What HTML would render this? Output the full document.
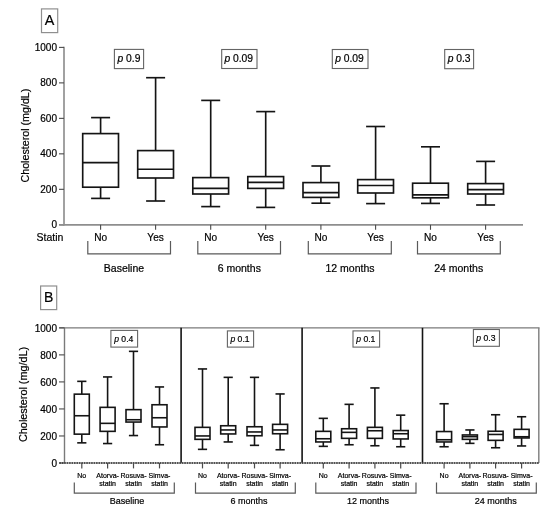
<!DOCTYPE html>
<html><head><meta charset="utf-8"><title>Cholesterol by statin use</title>
<style>
html,body{margin:0;padding:0;background:#fff;}
body{width:550px;height:515px;overflow:hidden;}
svg{display:block;font-family:'Liberation Sans', Arial, sans-serif;}
</style></head>
<body>
<svg width="550" height="515" viewBox="0 0 550 515">
<rect x="0" y="0" width="550" height="515" fill="#fff"/>
<rect x="41.5" y="8.9" width="16.2" height="23.7" stroke="#8f8f8f" stroke-width="1.2" fill="none"/>
<text x="49.6" y="25.4" font-size="14.3" text-anchor="middle" fill="#000" stroke="#000" stroke-width="0.2" >A</text>
<line x1="64" y1="46.8" x2="64" y2="225.4" stroke="#8a8a8a" stroke-width="1.6" />
<line x1="59.0" y1="224.8" x2="64" y2="224.8" stroke="#4a4a4a" stroke-width="1.1" />
<text x="57" y="228.4" font-size="10" text-anchor="end" fill="#000" stroke="#000" stroke-width="0.2" >0</text>
<line x1="59.0" y1="189.32" x2="64" y2="189.32" stroke="#4a4a4a" stroke-width="1.1" />
<text x="57" y="192.92" font-size="10" text-anchor="end" fill="#000" stroke="#000" stroke-width="0.2" >200</text>
<line x1="59.0" y1="153.84" x2="64" y2="153.84" stroke="#4a4a4a" stroke-width="1.1" />
<text x="57" y="157.44" font-size="10" text-anchor="end" fill="#000" stroke="#000" stroke-width="0.2" >400</text>
<line x1="59.0" y1="118.36" x2="64" y2="118.36" stroke="#4a4a4a" stroke-width="1.1" />
<text x="57" y="121.96" font-size="10" text-anchor="end" fill="#000" stroke="#000" stroke-width="0.2" >600</text>
<line x1="59.0" y1="82.88" x2="64" y2="82.88" stroke="#4a4a4a" stroke-width="1.1" />
<text x="57" y="86.47999999999999" font-size="10" text-anchor="end" fill="#000" stroke="#000" stroke-width="0.2" >800</text>
<line x1="59.0" y1="47.400000000000006" x2="64" y2="47.400000000000006" stroke="#4a4a4a" stroke-width="1.1" />
<text x="57" y="51.00000000000001" font-size="10" text-anchor="end" fill="#000" stroke="#000" stroke-width="0.2" >1000</text>
<text x="0" y="0" font-size="10.7" text-anchor="middle" fill="#000" stroke="#000" stroke-width="0.2" transform="translate(29,135.6) rotate(-90)">Cholesterol (mg/dL)</text>
<line x1="59.2" y1="224.8" x2="523" y2="224.8" stroke="#8e8e8e" stroke-width="1.7" />
<line x1="100.6" y1="224.8" x2="100.6" y2="229.8" stroke="#4a4a4a" stroke-width="1.1" />
<line x1="100.6" y1="117.6" x2="100.6" y2="133.6" stroke="#141414" stroke-width="1.65" />
<line x1="100.6" y1="187.2" x2="100.6" y2="198.4" stroke="#141414" stroke-width="1.65" />
<line x1="91.1" y1="117.6" x2="110.1" y2="117.6" stroke="#141414" stroke-width="1.65" />
<line x1="91.1" y1="198.4" x2="110.1" y2="198.4" stroke="#141414" stroke-width="1.65" />
<rect x="82.69999999999999" y="133.6" width="35.8" height="53.599999999999994" stroke="#141414" stroke-width="1.65" fill="#fff"/>
<line x1="82.69999999999999" y1="162.6" x2="118.5" y2="162.6" stroke="#141414" stroke-width="1.65" />
<line x1="155.6" y1="224.8" x2="155.6" y2="229.8" stroke="#4a4a4a" stroke-width="1.1" />
<line x1="155.6" y1="77.7" x2="155.6" y2="150.6" stroke="#141414" stroke-width="1.65" />
<line x1="155.6" y1="178" x2="155.6" y2="201" stroke="#141414" stroke-width="1.65" />
<line x1="146.1" y1="77.7" x2="165.1" y2="77.7" stroke="#141414" stroke-width="1.65" />
<line x1="146.1" y1="201" x2="165.1" y2="201" stroke="#141414" stroke-width="1.65" />
<rect x="137.7" y="150.6" width="35.8" height="27.400000000000006" stroke="#141414" stroke-width="1.65" fill="#fff"/>
<line x1="137.7" y1="169.2" x2="173.5" y2="169.2" stroke="#141414" stroke-width="1.65" />
<line x1="210.7" y1="224.8" x2="210.7" y2="229.8" stroke="#4a4a4a" stroke-width="1.1" />
<line x1="210.7" y1="100.4" x2="210.7" y2="177.6" stroke="#141414" stroke-width="1.65" />
<line x1="210.7" y1="194" x2="210.7" y2="206.6" stroke="#141414" stroke-width="1.65" />
<line x1="201.2" y1="100.4" x2="220.2" y2="100.4" stroke="#141414" stroke-width="1.65" />
<line x1="201.2" y1="206.6" x2="220.2" y2="206.6" stroke="#141414" stroke-width="1.65" />
<rect x="192.79999999999998" y="177.6" width="35.8" height="16.400000000000006" stroke="#141414" stroke-width="1.65" fill="#fff"/>
<line x1="192.79999999999998" y1="188.4" x2="228.6" y2="188.4" stroke="#141414" stroke-width="1.65" />
<line x1="265.7" y1="224.8" x2="265.7" y2="229.8" stroke="#4a4a4a" stroke-width="1.1" />
<line x1="265.7" y1="111.6" x2="265.7" y2="176.6" stroke="#141414" stroke-width="1.65" />
<line x1="265.7" y1="188.4" x2="265.7" y2="207.4" stroke="#141414" stroke-width="1.65" />
<line x1="256.2" y1="111.6" x2="275.2" y2="111.6" stroke="#141414" stroke-width="1.65" />
<line x1="256.2" y1="207.4" x2="275.2" y2="207.4" stroke="#141414" stroke-width="1.65" />
<rect x="247.79999999999998" y="176.6" width="35.8" height="11.800000000000011" stroke="#141414" stroke-width="1.65" fill="#fff"/>
<line x1="247.79999999999998" y1="182.4" x2="283.59999999999997" y2="182.4" stroke="#141414" stroke-width="1.65" />
<line x1="320.9" y1="224.8" x2="320.9" y2="229.8" stroke="#4a4a4a" stroke-width="1.1" />
<line x1="320.9" y1="166" x2="320.9" y2="182.6" stroke="#141414" stroke-width="1.65" />
<line x1="320.9" y1="197.4" x2="320.9" y2="203.2" stroke="#141414" stroke-width="1.65" />
<line x1="311.4" y1="166" x2="330.4" y2="166" stroke="#141414" stroke-width="1.65" />
<line x1="311.4" y1="203.2" x2="330.4" y2="203.2" stroke="#141414" stroke-width="1.65" />
<rect x="303.0" y="182.6" width="35.8" height="14.800000000000011" stroke="#141414" stroke-width="1.65" fill="#fff"/>
<line x1="303.0" y1="192.6" x2="338.79999999999995" y2="192.6" stroke="#141414" stroke-width="1.65" />
<line x1="375.6" y1="224.8" x2="375.6" y2="229.8" stroke="#4a4a4a" stroke-width="1.1" />
<line x1="375.6" y1="126.5" x2="375.6" y2="179.6" stroke="#141414" stroke-width="1.65" />
<line x1="375.6" y1="193" x2="375.6" y2="203.6" stroke="#141414" stroke-width="1.65" />
<line x1="366.1" y1="126.5" x2="385.1" y2="126.5" stroke="#141414" stroke-width="1.65" />
<line x1="366.1" y1="203.6" x2="385.1" y2="203.6" stroke="#141414" stroke-width="1.65" />
<rect x="357.70000000000005" y="179.6" width="35.8" height="13.400000000000006" stroke="#141414" stroke-width="1.65" fill="#fff"/>
<line x1="357.70000000000005" y1="185.5" x2="393.5" y2="185.5" stroke="#141414" stroke-width="1.65" />
<line x1="430.5" y1="224.8" x2="430.5" y2="229.8" stroke="#4a4a4a" stroke-width="1.1" />
<line x1="430.5" y1="146.8" x2="430.5" y2="183.2" stroke="#141414" stroke-width="1.65" />
<line x1="430.5" y1="197.8" x2="430.5" y2="203.4" stroke="#141414" stroke-width="1.65" />
<line x1="421.0" y1="146.8" x2="440.0" y2="146.8" stroke="#141414" stroke-width="1.65" />
<line x1="421.0" y1="203.4" x2="440.0" y2="203.4" stroke="#141414" stroke-width="1.65" />
<rect x="412.6" y="183.2" width="35.8" height="14.600000000000023" stroke="#141414" stroke-width="1.65" fill="#fff"/>
<line x1="412.6" y1="194.8" x2="448.4" y2="194.8" stroke="#141414" stroke-width="1.65" />
<line x1="485.6" y1="224.8" x2="485.6" y2="229.8" stroke="#4a4a4a" stroke-width="1.1" />
<line x1="485.6" y1="161.4" x2="485.6" y2="183.6" stroke="#141414" stroke-width="1.65" />
<line x1="485.6" y1="194" x2="485.6" y2="205" stroke="#141414" stroke-width="1.65" />
<line x1="476.1" y1="161.4" x2="495.1" y2="161.4" stroke="#141414" stroke-width="1.65" />
<line x1="476.1" y1="205" x2="495.1" y2="205" stroke="#141414" stroke-width="1.65" />
<rect x="467.70000000000005" y="183.6" width="35.8" height="10.400000000000006" stroke="#141414" stroke-width="1.65" fill="#fff"/>
<line x1="467.70000000000005" y1="189.6" x2="503.5" y2="189.6" stroke="#141414" stroke-width="1.65" />
<rect x="114.39999999999999" y="49.4" width="29.2" height="19.200000000000003" stroke="#646464" stroke-width="1.1" fill="none"/>
<text x="128.95" y="62.2" font-size="10.3" text-anchor="middle" fill="#000" stroke="#000" stroke-width="0.2" ><tspan font-style="italic">p</tspan> 0.9</text>
<rect x="221.70000000000002" y="49.5" width="35.3" height="19.000000000000007" stroke="#646464" stroke-width="1.1" fill="none"/>
<text x="238.7" y="62.2" font-size="10.3" text-anchor="middle" fill="#000" stroke="#000" stroke-width="0.2" ><tspan font-style="italic">p</tspan> 0.09</text>
<rect x="332.3" y="49.5" width="35.7" height="19.000000000000007" stroke="#646464" stroke-width="1.1" fill="none"/>
<text x="349.5" y="62.2" font-size="10.3" text-anchor="middle" fill="#000" stroke="#000" stroke-width="0.2" ><tspan font-style="italic">p</tspan> 0.09</text>
<rect x="444.7" y="49.5" width="28.900000000000045" height="19.199999999999996" stroke="#646464" stroke-width="1.1" fill="none"/>
<text x="459.1" y="62.2" font-size="10.3" text-anchor="middle" fill="#000" stroke="#000" stroke-width="0.2" ><tspan font-style="italic">p</tspan> 0.3</text>
<text x="63.4" y="241" font-size="10.5" text-anchor="end" fill="#000" stroke="#000" stroke-width="0.2" >Statin</text>
<text x="100.6" y="241" font-size="10.1" text-anchor="middle" fill="#000" stroke="#000" stroke-width="0.2" >No</text>
<text x="155.6" y="241" font-size="10.1" text-anchor="middle" fill="#000" stroke="#000" stroke-width="0.2" >Yes</text>
<text x="210.7" y="241" font-size="10.1" text-anchor="middle" fill="#000" stroke="#000" stroke-width="0.2" >No</text>
<text x="265.7" y="241" font-size="10.1" text-anchor="middle" fill="#000" stroke="#000" stroke-width="0.2" >Yes</text>
<text x="320.9" y="241" font-size="10.1" text-anchor="middle" fill="#000" stroke="#000" stroke-width="0.2" >No</text>
<text x="375.6" y="241" font-size="10.1" text-anchor="middle" fill="#000" stroke="#000" stroke-width="0.2" >Yes</text>
<text x="430.5" y="241" font-size="10.1" text-anchor="middle" fill="#000" stroke="#000" stroke-width="0.2" >No</text>
<text x="485.6" y="241" font-size="10.1" text-anchor="middle" fill="#000" stroke="#000" stroke-width="0.2" >Yes</text>
<polyline points="87.8,241 87.8,253.9 170.5,253.9 170.5,241" fill="none" stroke="#5a5a5a" stroke-width="1.2"/>
<polyline points="197.8,241 197.8,253.9 280.5,253.9 280.5,241" fill="none" stroke="#5a5a5a" stroke-width="1.2"/>
<polyline points="308.3,241 308.3,253.9 391.3,253.9 391.3,241" fill="none" stroke="#5a5a5a" stroke-width="1.2"/>
<polyline points="417.5,241 417.5,253.9 500.3,253.9 500.3,241" fill="none" stroke="#5a5a5a" stroke-width="1.2"/>
<text x="124" y="272" font-size="10.5" text-anchor="middle" fill="#000" stroke="#000" stroke-width="0.2" >Baseline</text>
<text x="239.3" y="272" font-size="10.5" text-anchor="middle" fill="#000" stroke="#000" stroke-width="0.2" >6 months</text>
<text x="350" y="272" font-size="10.5" text-anchor="middle" fill="#000" stroke="#000" stroke-width="0.2" >12 months</text>
<text x="458.7" y="272" font-size="10.5" text-anchor="middle" fill="#000" stroke="#000" stroke-width="0.2" >24 months</text>
<rect x="40.6" y="286.0" width="16.1" height="23.6" stroke="#8f8f8f" stroke-width="1.2" fill="none"/>
<text x="48.6" y="302.2" font-size="14.0" text-anchor="middle" fill="#000" stroke="#000" stroke-width="0.2" >B</text>
<line x1="64.5" y1="327.85" x2="64.5" y2="463" stroke="#7a7a7a" stroke-width="1.4" />
<line x1="59.3" y1="327.85" x2="539.5" y2="327.85" stroke="#7a7a7a" stroke-width="1.4" />
<line x1="538.8" y1="327.85" x2="538.8" y2="463" stroke="#858585" stroke-width="1.5" />
<line x1="59.0" y1="463.0" x2="64.5" y2="463.0" stroke="#4a4a4a" stroke-width="1.1" />
<text x="57" y="466.9" font-size="10" text-anchor="end" fill="#000" stroke="#000" stroke-width="0.2" >0</text>
<line x1="59.0" y1="435.97" x2="64.5" y2="435.97" stroke="#4a4a4a" stroke-width="1.1" />
<text x="57" y="439.87" font-size="10" text-anchor="end" fill="#000" stroke="#000" stroke-width="0.2" >200</text>
<line x1="59.0" y1="408.94" x2="64.5" y2="408.94" stroke="#4a4a4a" stroke-width="1.1" />
<text x="57" y="412.84" font-size="10" text-anchor="end" fill="#000" stroke="#000" stroke-width="0.2" >400</text>
<line x1="59.0" y1="381.91" x2="64.5" y2="381.91" stroke="#4a4a4a" stroke-width="1.1" />
<text x="57" y="385.81" font-size="10" text-anchor="end" fill="#000" stroke="#000" stroke-width="0.2" >600</text>
<line x1="59.0" y1="354.88" x2="64.5" y2="354.88" stroke="#4a4a4a" stroke-width="1.1" />
<text x="57" y="358.78" font-size="10" text-anchor="end" fill="#000" stroke="#000" stroke-width="0.2" >800</text>
<line x1="59.0" y1="327.85" x2="64.5" y2="327.85" stroke="#4a4a4a" stroke-width="1.1" />
<text x="57" y="331.75" font-size="10" text-anchor="end" fill="#000" stroke="#000" stroke-width="0.2" >1000</text>
<text x="0" y="0" font-size="10.85" text-anchor="middle" fill="#000" stroke="#000" stroke-width="0.2" transform="translate(27.4,394.4) rotate(-90)">Cholesterol (mg/dL)</text>
<line x1="181.1" y1="327.85" x2="181.1" y2="463" stroke="#141414" stroke-width="1.6" />
<line x1="302.1" y1="327.85" x2="302.1" y2="463" stroke="#141414" stroke-width="1.6" />
<line x1="422.5" y1="327.85" x2="422.5" y2="463" stroke="#141414" stroke-width="1.6" />
<line x1="59.3" y1="463" x2="538.8" y2="463" stroke="#999" stroke-width="1.2" />
<line x1="59.3" y1="463" x2="538.8" y2="463" stroke="#2a2a2a" stroke-width="1.3" stroke-dasharray="1.6,0.85"/>
<line x1="81.8" y1="463" x2="81.8" y2="468.4" stroke="#4a4a4a" stroke-width="1.2" />
<line x1="81.8" y1="381.35" x2="81.8" y2="394.15000000000003" stroke="#141414" stroke-width="1.6" />
<line x1="81.8" y1="434.15000000000003" x2="81.8" y2="442.85" stroke="#141414" stroke-width="1.6" />
<line x1="77.2" y1="381.35" x2="86.39999999999999" y2="381.35" stroke="#141414" stroke-width="1.6" />
<line x1="77.2" y1="442.85" x2="86.39999999999999" y2="442.85" stroke="#141414" stroke-width="1.6" />
<rect x="74.3" y="394.15000000000003" width="15.0" height="40.0" stroke="#141414" stroke-width="1.6" fill="#fff"/>
<line x1="74.3" y1="415.75" x2="89.3" y2="415.75" stroke="#141414" stroke-width="1.6" />
<text x="81.8" y="477.6" font-size="7" text-anchor="middle" fill="#000" stroke="#000" stroke-width="0.2" >No</text>
<line x1="107.6" y1="463" x2="107.6" y2="468.4" stroke="#4a4a4a" stroke-width="1.2" />
<line x1="107.6" y1="376.95000000000005" x2="107.6" y2="407.35" stroke="#141414" stroke-width="1.6" />
<line x1="107.6" y1="431.35" x2="107.6" y2="443.55" stroke="#141414" stroke-width="1.6" />
<line x1="103.0" y1="376.95000000000005" x2="112.19999999999999" y2="376.95000000000005" stroke="#141414" stroke-width="1.6" />
<line x1="103.0" y1="443.55" x2="112.19999999999999" y2="443.55" stroke="#141414" stroke-width="1.6" />
<rect x="100.1" y="407.35" width="15.0" height="24.0" stroke="#141414" stroke-width="1.6" fill="#fff"/>
<line x1="100.1" y1="423.35" x2="115.1" y2="423.35" stroke="#141414" stroke-width="1.6" />
<text x="107.6" y="477.6" font-size="7" text-anchor="middle" fill="#000" stroke="#000" stroke-width="0.2" >Atorva-</text>
<text x="107.6" y="486.1" font-size="7" text-anchor="middle" fill="#000" stroke="#000" stroke-width="0.2" >statin</text>
<line x1="133.5" y1="463" x2="133.5" y2="468.4" stroke="#4a4a4a" stroke-width="1.2" />
<line x1="133.5" y1="351.35" x2="133.5" y2="409.65000000000003" stroke="#141414" stroke-width="1.6" />
<line x1="133.5" y1="422.05" x2="133.5" y2="435.55" stroke="#141414" stroke-width="1.6" />
<line x1="128.9" y1="351.35" x2="138.1" y2="351.35" stroke="#141414" stroke-width="1.6" />
<line x1="128.9" y1="435.55" x2="138.1" y2="435.55" stroke="#141414" stroke-width="1.6" />
<rect x="126.0" y="409.65000000000003" width="15.0" height="12.399999999999977" stroke="#141414" stroke-width="1.6" fill="#fff"/>
<line x1="126.0" y1="419.75" x2="141.0" y2="419.75" stroke="#141414" stroke-width="1.6" />
<text x="133.5" y="477.6" font-size="7" text-anchor="middle" fill="#000" stroke="#000" stroke-width="0.2" >Rosuva-</text>
<text x="133.5" y="486.1" font-size="7" text-anchor="middle" fill="#000" stroke="#000" stroke-width="0.2" >statin</text>
<line x1="159.5" y1="463" x2="159.5" y2="468.4" stroke="#4a4a4a" stroke-width="1.2" />
<line x1="159.5" y1="386.95000000000005" x2="159.5" y2="404.75" stroke="#141414" stroke-width="1.6" />
<line x1="159.5" y1="426.95000000000005" x2="159.5" y2="444.75" stroke="#141414" stroke-width="1.6" />
<line x1="154.9" y1="386.95000000000005" x2="164.1" y2="386.95000000000005" stroke="#141414" stroke-width="1.6" />
<line x1="154.9" y1="444.75" x2="164.1" y2="444.75" stroke="#141414" stroke-width="1.6" />
<rect x="152.0" y="404.75" width="15.0" height="22.200000000000045" stroke="#141414" stroke-width="1.6" fill="#fff"/>
<line x1="152.0" y1="417.75" x2="167.0" y2="417.75" stroke="#141414" stroke-width="1.6" />
<text x="159.5" y="477.6" font-size="7" text-anchor="middle" fill="#000" stroke="#000" stroke-width="0.2" >Simva-</text>
<text x="159.5" y="486.1" font-size="7" text-anchor="middle" fill="#000" stroke="#000" stroke-width="0.2" >statin</text>
<line x1="202.5" y1="463" x2="202.5" y2="468.4" stroke="#4a4a4a" stroke-width="1.2" />
<line x1="202.5" y1="368.95000000000005" x2="202.5" y2="427.35" stroke="#141414" stroke-width="1.6" />
<line x1="202.5" y1="439.35" x2="202.5" y2="449.35" stroke="#141414" stroke-width="1.6" />
<line x1="197.9" y1="368.95000000000005" x2="207.1" y2="368.95000000000005" stroke="#141414" stroke-width="1.6" />
<line x1="197.9" y1="449.35" x2="207.1" y2="449.35" stroke="#141414" stroke-width="1.6" />
<rect x="195.0" y="427.35" width="15.0" height="12.0" stroke="#141414" stroke-width="1.6" fill="#fff"/>
<line x1="195.0" y1="435.95000000000005" x2="210.0" y2="435.95000000000005" stroke="#141414" stroke-width="1.6" />
<text x="202.5" y="477.6" font-size="7" text-anchor="middle" fill="#000" stroke="#000" stroke-width="0.2" >No</text>
<line x1="228.2" y1="463" x2="228.2" y2="468.4" stroke="#4a4a4a" stroke-width="1.2" />
<line x1="228.2" y1="377.35" x2="228.2" y2="425.75" stroke="#141414" stroke-width="1.6" />
<line x1="228.2" y1="433.95000000000005" x2="228.2" y2="441.95000000000005" stroke="#141414" stroke-width="1.6" />
<line x1="223.6" y1="377.35" x2="232.79999999999998" y2="377.35" stroke="#141414" stroke-width="1.6" />
<line x1="223.6" y1="441.95000000000005" x2="232.79999999999998" y2="441.95000000000005" stroke="#141414" stroke-width="1.6" />
<rect x="220.7" y="425.75" width="15.0" height="8.200000000000045" stroke="#141414" stroke-width="1.6" fill="#fff"/>
<line x1="220.7" y1="429.95000000000005" x2="235.7" y2="429.95000000000005" stroke="#141414" stroke-width="1.6" />
<text x="228.2" y="477.6" font-size="7" text-anchor="middle" fill="#000" stroke="#000" stroke-width="0.2" >Atorva-</text>
<text x="228.2" y="486.1" font-size="7" text-anchor="middle" fill="#000" stroke="#000" stroke-width="0.2" >statin</text>
<line x1="254.5" y1="463" x2="254.5" y2="468.4" stroke="#4a4a4a" stroke-width="1.2" />
<line x1="254.5" y1="377.35" x2="254.5" y2="426.75" stroke="#141414" stroke-width="1.6" />
<line x1="254.5" y1="435.75" x2="254.5" y2="445.35" stroke="#141414" stroke-width="1.6" />
<line x1="249.9" y1="377.35" x2="259.1" y2="377.35" stroke="#141414" stroke-width="1.6" />
<line x1="249.9" y1="445.35" x2="259.1" y2="445.35" stroke="#141414" stroke-width="1.6" />
<rect x="247.0" y="426.75" width="15.0" height="9.0" stroke="#141414" stroke-width="1.6" fill="#fff"/>
<line x1="247.0" y1="431.95000000000005" x2="262.0" y2="431.95000000000005" stroke="#141414" stroke-width="1.6" />
<text x="254.5" y="477.6" font-size="7" text-anchor="middle" fill="#000" stroke="#000" stroke-width="0.2" >Rosuva-</text>
<text x="254.5" y="486.1" font-size="7" text-anchor="middle" fill="#000" stroke="#000" stroke-width="0.2" >statin</text>
<line x1="280.1" y1="463" x2="280.1" y2="468.4" stroke="#4a4a4a" stroke-width="1.2" />
<line x1="280.1" y1="393.95000000000005" x2="280.1" y2="424.35" stroke="#141414" stroke-width="1.6" />
<line x1="280.1" y1="433.75" x2="280.1" y2="449.75" stroke="#141414" stroke-width="1.6" />
<line x1="275.5" y1="393.95000000000005" x2="284.70000000000005" y2="393.95000000000005" stroke="#141414" stroke-width="1.6" />
<line x1="275.5" y1="449.75" x2="284.70000000000005" y2="449.75" stroke="#141414" stroke-width="1.6" />
<rect x="272.6" y="424.35" width="15.0" height="9.399999999999977" stroke="#141414" stroke-width="1.6" fill="#fff"/>
<line x1="272.6" y1="429.95000000000005" x2="287.6" y2="429.95000000000005" stroke="#141414" stroke-width="1.6" />
<text x="280.1" y="477.6" font-size="7" text-anchor="middle" fill="#000" stroke="#000" stroke-width="0.2" >Simva-</text>
<text x="280.1" y="486.1" font-size="7" text-anchor="middle" fill="#000" stroke="#000" stroke-width="0.2" >statin</text>
<line x1="323.3" y1="463" x2="323.3" y2="468.4" stroke="#4a4a4a" stroke-width="1.2" />
<line x1="323.3" y1="418.35" x2="323.3" y2="431.35" stroke="#141414" stroke-width="1.6" />
<line x1="323.3" y1="441.95000000000005" x2="323.3" y2="446.35" stroke="#141414" stroke-width="1.6" />
<line x1="318.7" y1="418.35" x2="327.90000000000003" y2="418.35" stroke="#141414" stroke-width="1.6" />
<line x1="318.7" y1="446.35" x2="327.90000000000003" y2="446.35" stroke="#141414" stroke-width="1.6" />
<rect x="315.8" y="431.35" width="15.0" height="10.600000000000023" stroke="#141414" stroke-width="1.6" fill="#fff"/>
<line x1="315.8" y1="438.75" x2="330.8" y2="438.75" stroke="#141414" stroke-width="1.6" />
<text x="323.3" y="477.6" font-size="7" text-anchor="middle" fill="#000" stroke="#000" stroke-width="0.2" >No</text>
<line x1="349.1" y1="463" x2="349.1" y2="468.4" stroke="#4a4a4a" stroke-width="1.2" />
<line x1="349.1" y1="404.35" x2="349.1" y2="428.75" stroke="#141414" stroke-width="1.6" />
<line x1="349.1" y1="438.35" x2="349.1" y2="444.75" stroke="#141414" stroke-width="1.6" />
<line x1="344.5" y1="404.35" x2="353.70000000000005" y2="404.35" stroke="#141414" stroke-width="1.6" />
<line x1="344.5" y1="444.75" x2="353.70000000000005" y2="444.75" stroke="#141414" stroke-width="1.6" />
<rect x="341.6" y="428.75" width="15.0" height="9.600000000000023" stroke="#141414" stroke-width="1.6" fill="#fff"/>
<line x1="341.6" y1="432.35" x2="356.6" y2="432.35" stroke="#141414" stroke-width="1.6" />
<text x="349.1" y="477.6" font-size="7" text-anchor="middle" fill="#000" stroke="#000" stroke-width="0.2" >Atorva-</text>
<text x="349.1" y="486.1" font-size="7" text-anchor="middle" fill="#000" stroke="#000" stroke-width="0.2" >statin</text>
<line x1="374.9" y1="463" x2="374.9" y2="468.4" stroke="#4a4a4a" stroke-width="1.2" />
<line x1="374.9" y1="387.95000000000005" x2="374.9" y2="427.35" stroke="#141414" stroke-width="1.6" />
<line x1="374.9" y1="438.35" x2="374.9" y2="445.75" stroke="#141414" stroke-width="1.6" />
<line x1="370.29999999999995" y1="387.95000000000005" x2="379.5" y2="387.95000000000005" stroke="#141414" stroke-width="1.6" />
<line x1="370.29999999999995" y1="445.75" x2="379.5" y2="445.75" stroke="#141414" stroke-width="1.6" />
<rect x="367.4" y="427.35" width="15.0" height="11.0" stroke="#141414" stroke-width="1.6" fill="#fff"/>
<line x1="367.4" y1="430.75" x2="382.4" y2="430.75" stroke="#141414" stroke-width="1.6" />
<text x="374.9" y="477.6" font-size="7" text-anchor="middle" fill="#000" stroke="#000" stroke-width="0.2" >Rosuva-</text>
<text x="374.9" y="486.1" font-size="7" text-anchor="middle" fill="#000" stroke="#000" stroke-width="0.2" >statin</text>
<line x1="400.7" y1="463" x2="400.7" y2="468.4" stroke="#4a4a4a" stroke-width="1.2" />
<line x1="400.7" y1="415.15000000000003" x2="400.7" y2="430.55" stroke="#141414" stroke-width="1.6" />
<line x1="400.7" y1="438.95000000000005" x2="400.7" y2="446.75" stroke="#141414" stroke-width="1.6" />
<line x1="396.09999999999997" y1="415.15000000000003" x2="405.3" y2="415.15000000000003" stroke="#141414" stroke-width="1.6" />
<line x1="396.09999999999997" y1="446.75" x2="405.3" y2="446.75" stroke="#141414" stroke-width="1.6" />
<rect x="393.2" y="430.55" width="15.0" height="8.400000000000034" stroke="#141414" stroke-width="1.6" fill="#fff"/>
<line x1="393.2" y1="433.75" x2="408.2" y2="433.75" stroke="#141414" stroke-width="1.6" />
<text x="400.7" y="477.6" font-size="7" text-anchor="middle" fill="#000" stroke="#000" stroke-width="0.2" >Simva-</text>
<text x="400.7" y="486.1" font-size="7" text-anchor="middle" fill="#000" stroke="#000" stroke-width="0.2" >statin</text>
<line x1="444.1" y1="463" x2="444.1" y2="468.4" stroke="#4a4a4a" stroke-width="1.2" />
<line x1="444.1" y1="403.75" x2="444.1" y2="431.55" stroke="#141414" stroke-width="1.6" />
<line x1="444.1" y1="441.95000000000005" x2="444.1" y2="446.75" stroke="#141414" stroke-width="1.6" />
<line x1="439.5" y1="403.75" x2="448.70000000000005" y2="403.75" stroke="#141414" stroke-width="1.6" />
<line x1="439.5" y1="446.75" x2="448.70000000000005" y2="446.75" stroke="#141414" stroke-width="1.6" />
<rect x="436.6" y="431.55" width="15.0" height="10.400000000000034" stroke="#141414" stroke-width="1.6" fill="#fff"/>
<line x1="436.6" y1="439.75" x2="451.6" y2="439.75" stroke="#141414" stroke-width="1.6" />
<text x="444.1" y="477.6" font-size="7" text-anchor="middle" fill="#000" stroke="#000" stroke-width="0.2" >No</text>
<line x1="469.9" y1="463" x2="469.9" y2="468.4" stroke="#4a4a4a" stroke-width="1.2" />
<line x1="469.9" y1="429.95000000000005" x2="469.9" y2="434.95000000000005" stroke="#141414" stroke-width="1.6" />
<line x1="469.9" y1="439.35" x2="469.9" y2="443.35" stroke="#141414" stroke-width="1.6" />
<line x1="465.29999999999995" y1="429.95000000000005" x2="474.5" y2="429.95000000000005" stroke="#141414" stroke-width="1.6" />
<line x1="465.29999999999995" y1="443.35" x2="474.5" y2="443.35" stroke="#141414" stroke-width="1.6" />
<rect x="462.4" y="434.95000000000005" width="15.0" height="4.399999999999977" stroke="#141414" stroke-width="1.6" fill="#fff"/>
<line x1="462.4" y1="436.65000000000003" x2="477.4" y2="436.65000000000003" stroke="#141414" stroke-width="1.6" />
<text x="469.9" y="477.6" font-size="7" text-anchor="middle" fill="#000" stroke="#000" stroke-width="0.2" >Atorva-</text>
<text x="469.9" y="486.1" font-size="7" text-anchor="middle" fill="#000" stroke="#000" stroke-width="0.2" >statin</text>
<line x1="495.6" y1="463" x2="495.6" y2="468.4" stroke="#4a4a4a" stroke-width="1.2" />
<line x1="495.6" y1="414.75" x2="495.6" y2="431.25" stroke="#141414" stroke-width="1.6" />
<line x1="495.6" y1="440.35" x2="495.6" y2="447.75" stroke="#141414" stroke-width="1.6" />
<line x1="491.0" y1="414.75" x2="500.20000000000005" y2="414.75" stroke="#141414" stroke-width="1.6" />
<line x1="491.0" y1="447.75" x2="500.20000000000005" y2="447.75" stroke="#141414" stroke-width="1.6" />
<rect x="488.1" y="431.25" width="15.0" height="9.100000000000023" stroke="#141414" stroke-width="1.6" fill="#fff"/>
<line x1="488.1" y1="434.45000000000005" x2="503.1" y2="434.45000000000005" stroke="#141414" stroke-width="1.6" />
<text x="495.6" y="477.6" font-size="7" text-anchor="middle" fill="#000" stroke="#000" stroke-width="0.2" >Rosuva-</text>
<text x="495.6" y="486.1" font-size="7" text-anchor="middle" fill="#000" stroke="#000" stroke-width="0.2" >statin</text>
<line x1="521.6" y1="463" x2="521.6" y2="468.4" stroke="#4a4a4a" stroke-width="1.2" />
<line x1="521.6" y1="416.75" x2="521.6" y2="429.35" stroke="#141414" stroke-width="1.6" />
<line x1="521.6" y1="437.95000000000005" x2="521.6" y2="445.95000000000005" stroke="#141414" stroke-width="1.6" />
<line x1="517.0" y1="416.75" x2="526.2" y2="416.75" stroke="#141414" stroke-width="1.6" />
<line x1="517.0" y1="445.95000000000005" x2="526.2" y2="445.95000000000005" stroke="#141414" stroke-width="1.6" />
<rect x="514.1" y="429.35" width="15.0" height="8.600000000000023" stroke="#141414" stroke-width="1.6" fill="#fff"/>
<line x1="514.1" y1="436.75" x2="529.1" y2="436.75" stroke="#141414" stroke-width="1.6" />
<text x="521.6" y="477.6" font-size="7" text-anchor="middle" fill="#000" stroke="#000" stroke-width="0.2" >Simva-</text>
<text x="521.6" y="486.1" font-size="7" text-anchor="middle" fill="#000" stroke="#000" stroke-width="0.2" >statin</text>
<rect x="110.9" y="330.40000000000003" width="26.69999999999999" height="16.699999999999978" stroke="#646464" stroke-width="1.1" fill="none"/>
<text x="123.75" y="341.5" font-size="8.6" text-anchor="middle" fill="#000" stroke="#000" stroke-width="0.2" ><tspan font-style="italic">p</tspan> 0.4</text>
<rect x="227.4" y="330.90000000000003" width="26.19999999999999" height="16.199999999999978" stroke="#646464" stroke-width="1.1" fill="none"/>
<text x="240.0" y="341.5" font-size="8.6" text-anchor="middle" fill="#000" stroke="#000" stroke-width="0.2" ><tspan font-style="italic">p</tspan> 0.1</text>
<rect x="353" y="330.90000000000003" width="26.600000000000023" height="16.199999999999978" stroke="#646464" stroke-width="1.1" fill="none"/>
<text x="365.8" y="341.5" font-size="8.6" text-anchor="middle" fill="#000" stroke="#000" stroke-width="0.2" ><tspan font-style="italic">p</tspan> 0.1</text>
<rect x="473.4" y="329.5" width="26.0" height="16.8" stroke="#646464" stroke-width="1.1" fill="none"/>
<text x="485.9" y="340.7" font-size="8.6" text-anchor="middle" fill="#000" stroke="#000" stroke-width="0.2" ><tspan font-style="italic">p</tspan> 0.3</text>
<polyline points="74.3,482.5 74.3,493.2 174.3,493.2 174.3,482.5" fill="none" stroke="#5a5a5a" stroke-width="1.2"/>
<polyline points="195.5,482.5 195.5,493.2 295.3,493.2 295.3,482.5" fill="none" stroke="#5a5a5a" stroke-width="1.2"/>
<polyline points="315.8,482.5 315.8,493.2 416,493.2 416,482.5" fill="none" stroke="#5a5a5a" stroke-width="1.2"/>
<polyline points="436.5,482.5 436.5,493.2 536.3,493.2 536.3,482.5" fill="none" stroke="#5a5a5a" stroke-width="1.2"/>
<text x="127" y="504" font-size="9" text-anchor="middle" fill="#000" stroke="#000" stroke-width="0.2" >Baseline</text>
<text x="249" y="504" font-size="9" text-anchor="middle" fill="#000" stroke="#000" stroke-width="0.2" >6 months</text>
<text x="367.9" y="504" font-size="9" text-anchor="middle" fill="#000" stroke="#000" stroke-width="0.2" >12 months</text>
<text x="495.8" y="504" font-size="9" text-anchor="middle" fill="#000" stroke="#000" stroke-width="0.2" >24 months</text>
</svg>
</body></html>
